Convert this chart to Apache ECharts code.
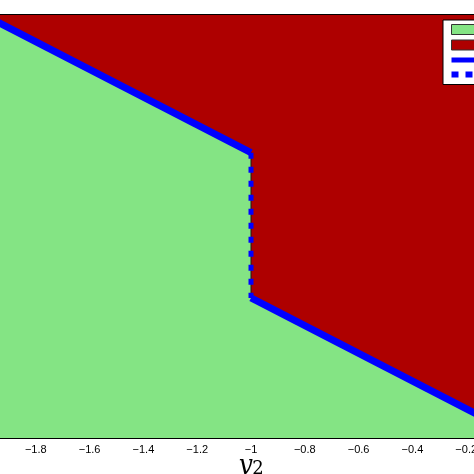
<!DOCTYPE html>
<html>
<head>
<meta charset="utf-8">
<script src="https://cdn.jsdelivr.net/npm/echarts@6/dist/echarts.min.js"></script>
<style>
html, body { margin: 0; padding: 0; background: #fff; }
#main { width: 474px; height: 474px; }
</style>
</head>
<body>
<div id="main"></div>
<script>
// boundary between the two regions (x = y2)
var upperEdge = [[-2, 1.58], [-1, 1.064]];
var jumpEdge = [[-1, 1.064], [-1, 0.523]];
var lowerEdge = [[-1, 0.523], [0, 0.008]];
var topEdge = [[-2, 1.58], [0, 1.58]];
var xTicks = [-2, 0, 0.2];

var blue = '#0000ff';

var myChart = echarts.init(document.getElementById('main'));
var option = {
	animation: false,
	grid: {
		left: -18,
		right: -46,
		top: 14,
		bottom: 35.5,
		outerBoundsMode: 'none',
		containLabel: false
	},
	legend: {
		left: 443,
		top: 20,
		orient: 'vertical',
		padding: [4, 8, 5, 8],
		itemWidth: 34,
		itemHeight: 10,
		itemGap: 4.5,
		backgroundColor: '#fff',
		borderColor: '#000',
		borderWidth: 1,
		textStyle: { fontSize: 10, color: '#000' },
		data: [
			{ name: 'Region 1', icon: 'rect', itemStyle: { color: '#84e484', borderColor: '#333', borderWidth: 1 } },
			{ name: 'Region 2', icon: 'rect', itemStyle: { color: '#ae0000', borderColor: '#333', borderWidth: 1 } },
			{ name: 'Boundary', icon: 'path://M0,0 H34 V5 H0 Z', itemStyle: { color: blue, borderWidth: 0 } },
			{ name: 'Switch', icon: 'path://M0,0 H7 V6 H0 Z M14,0 H21 V6 H14 Z M28,0 H34 V6 H28 Z', itemStyle: { color: blue, borderWidth: 0 } }
		]
	},
	xAxis: [{
		type: 'value',
		min: xTicks[0],
		max: xTicks[1],
		interval: xTicks[2],
		z: 5,
		splitLine: { show: false },
		axisLine: { lineStyle: { color: '#000', width: 1 } },
		axisTick: { show: false },
		axisLabel: {
			margin: 6,
			fontFamily: 'Liberation Sans',
			fontSize: 11,
			color: '#000',
			formatter: function(v) {
				return String(Math.round(v * 10) / 10).replace('-', '\u2212');
			}
		},
		name: '{a|y}{b|2}',
		nameLocation: 'middle',
		nameGap: 14,
		nameMoveOverlap: false,
		nameTextStyle: {
			rich: {
				a: { fontFamily: 'DejaVu Serif', fontStyle: 'italic', fontSize: 25, color: '#000', verticalAlign: 'top' },
				b: { fontFamily: 'DejaVu Serif', fontSize: 18, color: '#000', verticalAlign: 'top', padding: [8, 0, 0, 0] }
			}
		}
	}, {
		type: 'value',
		position: 'top',
		min: xTicks[0],
		max: xTicks[1],
		interval: xTicks[2],
		z: 5,
		splitLine: { show: false },
		axisLine: { lineStyle: { color: '#000', width: 1 } },
		axisTick: { show: false },
		axisLabel: { show: false }
	}],
	yAxis: {
		type: 'value',
		min: 0,
		max: 1.58,
		show: false
	},
	series: [{
		name: 'Region 2',
		type: 'line',
		data: topEdge,
		symbol: 'none',
		z: 1,
		lineStyle: { width: 0 },
		areaStyle: { color: '#ae0000', opacity: 1 }
	}, {
		name: 'Region 1',
		type: 'line',
		data: upperEdge.concat(lowerEdge),
		symbol: 'none',
		z: 2,
		lineStyle: { width: 1, color: '#1a1a1a' },
		areaStyle: { color: '#84e484', opacity: 1 }
	}, {
		name: 'Boundary',
		type: 'line',
		data: upperEdge,
		symbol: 'none',
		z: 3,
		lineStyle: { width: 7, color: blue, cap: 'butt' }
	}, {
		name: 'Boundary',
		type: 'line',
		data: lowerEdge,
		symbol: 'none',
		z: 3,
		lineStyle: { width: 7, color: blue, cap: 'butt' }
	}, {
		name: 'Switch',
		type: 'line',
		data: jumpEdge,
		symbol: 'none',
		z: 3,
		lineStyle: { width: 5, color: blue, type: [6, 8] }
	}]
};
myChart.setOption(option);
</script>
</body>
</html>
